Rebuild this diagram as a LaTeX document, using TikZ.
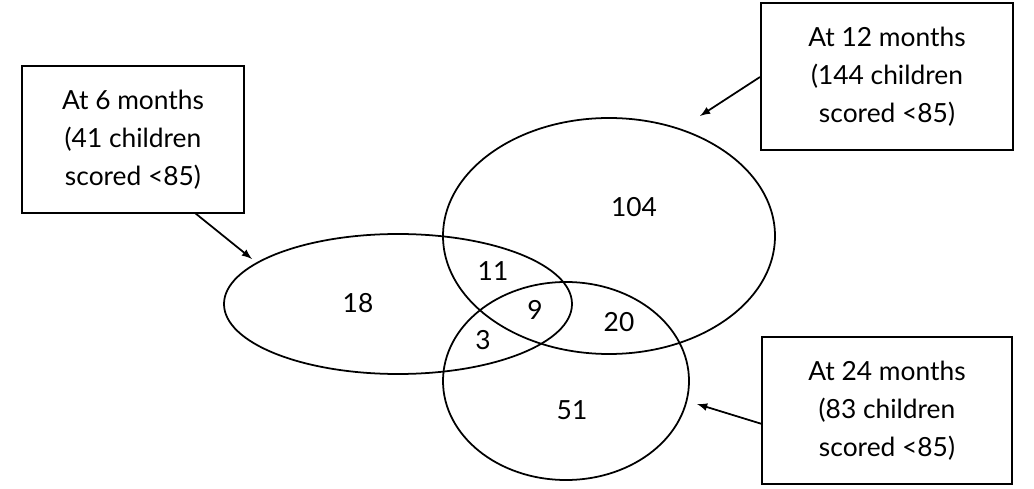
\documentclass[tikz,border=0pt]{standalone}
\usepackage{fontspec}
\setmainfont{Lato}
\begin{document}
\begin{tikzpicture}[x=0.02cm,y=-0.02cm,
  lbl/.style={draw,line width=1pt,minimum width=0pt,inner sep=0pt,align=center,font=\fontsize{15}{22}\selectfont},
  num/.style={font=\fontsize{15}{18}\selectfont},
  ell/.style={draw,line width=1pt},
  arr/.style={-latex,line width=1pt}]
\useasboundingbox (0,0) rectangle (1034,489);
\draw[ell] (398,304) ellipse [x radius=174, y radius=70];
\draw[ell] (609,236) ellipse [x radius=166, y radius=118];
\draw[ell] (566,381) ellipse [x radius=123, y radius=99];
\draw[line width=1pt] (22,66) rectangle (244,213);
\draw[line width=1pt] (761,3) rectangle (1013,150);
\draw[line width=1pt] (762,337) rectangle (1012,484);
\node[align=center,font=\fontsize{15}{21.5}\selectfont] (b6) at (133,139.5) {At 6 months\\(41 children\\scored <85)};
\node[align=center,font=\fontsize{15}{21.5}\selectfont] (b12) at (887,76.5) {At 12 months\\(144 children\\scored <85)};
\node[align=center,font=\fontsize{15}{21.5}\selectfont] (b24) at (887,410.5) {At 24 months\\(83 children\\scored <85)};
\coordinate (s6) at (195,213); \coordinate (e6) at (252,259);
\coordinate (s12) at (760,77); \coordinate (e12) at (700,116);
\coordinate (s24) at (762,424); \coordinate (e24) at (697,404);
\draw[arr] (s6) -- (e6);
\draw[arr] (s12) -- (e12);
\draw[arr] (s24) -- (e24);
\node[num] (n104) at (634,207) {104};
\node[num] (n18) at (358,303) {18};
\node[num] (n11) at (493,271) {11};
\node[num] (n9) at (535,310) {9};
\node[num] (n3) at (483,340) {3};
\node[num] (n20) at (619,322) {20};
\node[num] (n51) at (572,410) {51};
\end{tikzpicture}
\end{document}
